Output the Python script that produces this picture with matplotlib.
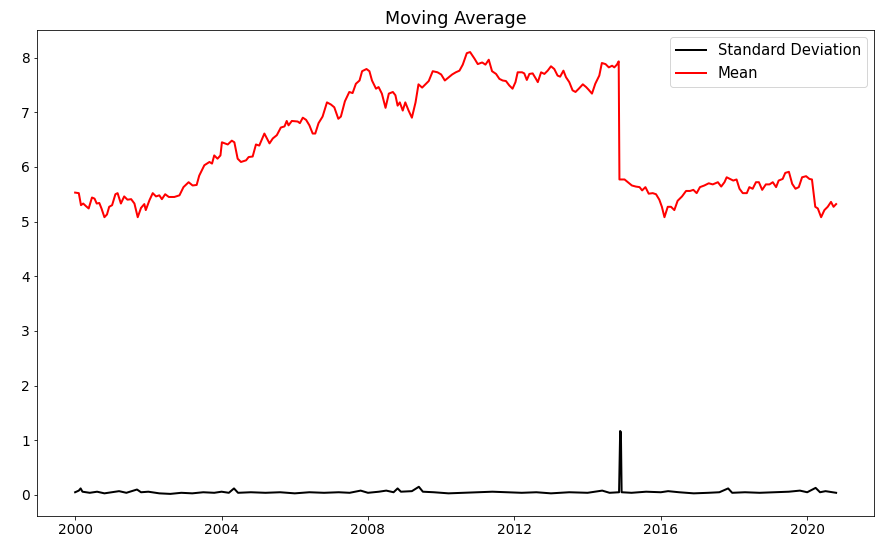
import numpy as np
import matplotlib
matplotlib.use("Agg")
import matplotlib.pyplot as plt

# Rolling mean (decimal years, value)
mean_years = [
    2000.00, 2000.10, 2000.16, 2000.22, 2000.30, 2000.37, 2000.46, 2000.53, 2000.59, 2000.66,
    2000.72, 2000.80, 2000.87, 2000.93, 2001.01, 2001.10, 2001.16, 2001.25, 2001.34, 2001.43,
    2001.53, 2001.62, 2001.71, 2001.80, 2001.89, 2001.93, 2002.03, 2002.12, 2002.21, 2002.30,
    2002.37, 2002.46, 2002.56, 2002.71, 2002.85, 2002.96, 2003.10, 2003.21, 2003.32, 2003.39,
    2003.53, 2003.67, 2003.74, 2003.80, 2003.89, 2003.97, 2004.01, 2004.17, 2004.28, 2004.35,
    2004.44, 2004.53, 2004.67, 2004.74, 2004.85, 2004.94, 2005.03, 2005.17, 2005.31, 2005.40,
    2005.51, 2005.62, 2005.72, 2005.78, 2005.83, 2005.92, 2006.08, 2006.14, 2006.22, 2006.31,
    2006.40, 2006.49, 2006.56, 2006.65, 2006.76, 2006.88, 2006.99, 2007.08, 2007.19, 2007.26,
    2007.37, 2007.49, 2007.58, 2007.67, 2007.77, 2007.84, 2007.96, 2008.04, 2008.11, 2008.22,
    2008.29, 2008.38, 2008.48, 2008.57, 2008.68, 2008.75, 2008.81, 2008.87, 2008.95, 2009.02,
    2009.11, 2009.20, 2009.30, 2009.38, 2009.48, 2009.54, 2009.66, 2009.77, 2009.90, 2010.00,
    2010.10, 2010.21, 2010.30, 2010.40, 2010.50, 2010.59, 2010.70, 2010.79, 2010.91, 2011.00,
    2011.12, 2011.21, 2011.30, 2011.39, 2011.50, 2011.59, 2011.68, 2011.77, 2011.86, 2011.95,
    2012.03, 2012.09, 2012.21, 2012.27, 2012.34, 2012.41, 2012.50, 2012.59, 2012.64, 2012.73,
    2012.82, 2012.91, 2013.00, 2013.09, 2013.18, 2013.25, 2013.34, 2013.41, 2013.50, 2013.59,
    2013.67, 2013.76, 2013.87, 2013.96, 2014.03, 2014.12, 2014.21, 2014.32, 2014.39, 2014.49,
    2014.58, 2014.67, 2014.73, 2014.80, 2014.85, 2014.87, 2015.01, 2015.10, 2015.21, 2015.32,
    2015.42, 2015.49, 2015.58, 2015.67, 2015.78, 2015.87, 2015.96, 2016.03, 2016.10, 2016.19,
    2016.28, 2016.37, 2016.46, 2016.58, 2016.69, 2016.80, 2016.89, 2016.98, 2017.07, 2017.19,
    2017.31, 2017.42, 2017.56, 2017.65, 2017.74, 2017.80, 2017.89, 2017.98, 2018.07, 2018.15,
    2018.24, 2018.35, 2018.42, 2018.51, 2018.60, 2018.68, 2018.77, 2018.87, 2018.97, 2019.06,
    2019.15, 2019.22, 2019.33, 2019.40, 2019.50, 2019.59, 2019.68, 2019.77, 2019.86, 2019.97,
    2020.06, 2020.13, 2020.22, 2020.29, 2020.38, 2020.47, 2020.56, 2020.65, 2020.72, 2020.79,
]
mean_values = [
    5.53, 5.52, 5.30, 5.33, 5.28, 5.24, 5.44, 5.42, 5.33, 5.34,
    5.24, 5.08, 5.13, 5.27, 5.30, 5.50, 5.52, 5.33, 5.46, 5.40,
    5.41, 5.33, 5.08, 5.25, 5.32, 5.21, 5.39, 5.52, 5.46, 5.48,
    5.41, 5.50, 5.45, 5.45, 5.48, 5.63, 5.72, 5.66, 5.67, 5.84,
    6.03, 6.09, 6.06, 6.21, 6.15, 6.21, 6.45, 6.41, 6.48, 6.45,
    6.15, 6.09, 6.12, 6.18, 6.19, 6.41, 6.39, 6.61, 6.43, 6.52,
    6.58, 6.72, 6.74, 6.84, 6.76, 6.84, 6.83, 6.80, 6.90, 6.86,
    6.76, 6.61, 6.61, 6.80, 6.92, 7.18, 7.14, 7.09, 6.88, 6.92,
    7.20, 7.37, 7.35, 7.52, 7.58, 7.75, 7.79, 7.75, 7.58, 7.43,
    7.46, 7.34, 7.08, 7.34, 7.37, 7.31, 7.12, 7.18, 7.03, 7.18,
    7.03, 6.90, 7.18, 7.51, 7.45, 7.49, 7.57, 7.75, 7.73, 7.69,
    7.58, 7.64, 7.69, 7.73, 7.76, 7.87, 8.08, 8.10, 7.98, 7.88,
    7.91, 7.87, 7.96, 7.75, 7.70, 7.61, 7.58, 7.57, 7.49, 7.43,
    7.55, 7.73, 7.73, 7.71, 7.59, 7.70, 7.71, 7.61, 7.55, 7.73,
    7.70, 7.76, 7.84, 7.79, 7.67, 7.65, 7.76, 7.64, 7.55, 7.40,
    7.37, 7.43, 7.51, 7.46, 7.41, 7.34, 7.52, 7.67, 7.90, 7.88,
    7.82, 7.85, 7.82, 7.87, 7.93, 5.77, 5.77, 5.72, 5.66, 5.64,
    5.63, 5.57, 5.63, 5.51, 5.52, 5.50, 5.40, 5.27, 5.08, 5.27,
    5.27, 5.21, 5.38, 5.46, 5.56, 5.56, 5.58, 5.52, 5.63, 5.66,
    5.70, 5.68, 5.72, 5.64, 5.72, 5.81, 5.78, 5.75, 5.77, 5.60,
    5.52, 5.52, 5.63, 5.60, 5.72, 5.72, 5.58, 5.68, 5.68, 5.72,
    5.63, 5.75, 5.78, 5.89, 5.91, 5.69, 5.60, 5.63, 5.81, 5.83,
    5.78, 5.77, 5.27, 5.24, 5.08, 5.21, 5.27, 5.36, 5.27, 5.32,
]

# Rolling standard deviation
std_years = [
    2000.00, 2000.10, 2000.15, 2000.20, 2000.40, 2000.60, 2000.80, 2001.00, 2001.20, 2001.40,
    2001.69, 2001.80, 2002.00, 2002.30, 2002.60, 2002.90, 2003.20, 2003.50, 2003.80, 2004.00,
    2004.20, 2004.34, 2004.45, 2004.80, 2005.20, 2005.60, 2006.00, 2006.40, 2006.80, 2007.20,
    2007.50, 2007.80, 2008.00, 2008.30, 2008.50, 2008.70, 2008.81, 2008.90, 2009.20, 2009.39,
    2009.50, 2009.80, 2010.20, 2010.60, 2011.00, 2011.40, 2011.80, 2012.20, 2012.60, 2013.00,
    2013.50, 2014.00, 2014.40, 2014.60, 2014.86, 2014.89, 2014.91, 2014.93, 2015.20, 2015.60,
    2016.00, 2016.20, 2016.50, 2016.90, 2017.30, 2017.60, 2017.84, 2017.95, 2018.30, 2018.70,
    2019.10, 2019.50, 2019.80, 2020.00, 2020.23, 2020.35, 2020.50, 2020.79,
]
std_values = [
    0.05, 0.08, 0.12, 0.06, 0.04, 0.06, 0.03, 0.05, 0.07, 0.04,
    0.10, 0.05, 0.06, 0.03, 0.02, 0.04, 0.03, 0.05, 0.04, 0.06,
    0.04, 0.12, 0.04, 0.05, 0.04, 0.05, 0.03, 0.05, 0.04, 0.05,
    0.04, 0.08, 0.04, 0.06, 0.08, 0.05, 0.12, 0.06, 0.07, 0.15,
    0.06, 0.05, 0.03, 0.04, 0.05, 0.06, 0.05, 0.04, 0.05, 0.03,
    0.05, 0.04, 0.08, 0.04, 0.05, 1.17, 1.15, 0.05, 0.04, 0.06,
    0.05, 0.07, 0.05, 0.03, 0.04, 0.05, 0.12, 0.04, 0.05, 0.04,
    0.05, 0.06, 0.08, 0.05, 0.13, 0.05, 0.07, 0.04,
]

year_ticks = [2000, 2004, 2008, 2012, 2016, 2020]

plt.rcParams['font.size'] = 13.8

fig = plt.figure(figsize=(883 / 72, 555 / 72), dpi=72)
ax = fig.add_axes([0.042, 0.0703, 0.948, 0.8757])

ax.plot(std_years, std_values, color='black', linewidth=2, label='Standard Deviation')
ax.plot(mean_years, mean_values, color='red', linewidth=2, label='Mean')

ax.set_xticks(year_ticks)
ax.set_xticklabels([str(y) for y in year_ticks])
ax.set_title('Moving Average', fontsize=17.5)
ax.legend(loc='best', fontsize=14.8)

fig.savefig('out.png', dpi=72)
